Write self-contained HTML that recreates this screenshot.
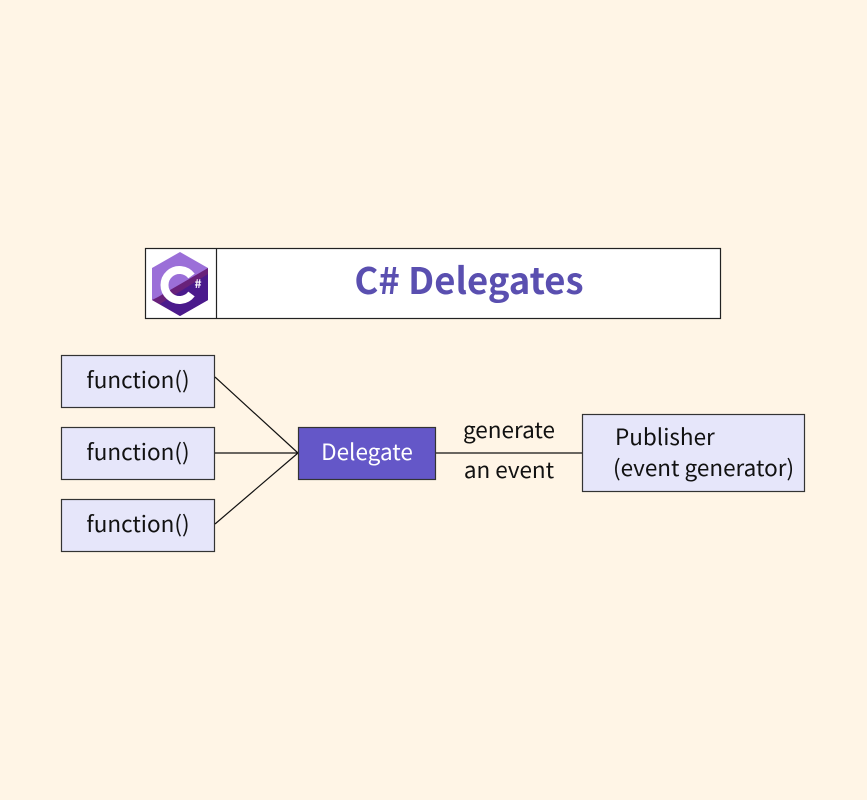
<!DOCTYPE html>
<html><head><meta charset="utf-8"><style>
html,body{margin:0;padding:0;background:#fff5e6;}
svg{display:block;}
text{font-family:"Noto Sans CJK SC","Liberation Sans",sans-serif;}
</style></head><body>
<svg width="867" height="800" viewBox="0 0 867 800" xmlns="http://www.w3.org/2000/svg">
<rect width="867" height="800" fill="#fff5e6"/>
<rect x="145.5" y="248.5" width="575" height="70" fill="#fff" stroke="#222" stroke-width="1.2"/>
<line x1="216.5" y1="248.5" x2="216.5" y2="318.5" stroke="#222" stroke-width="1.2"/>
<polygon points="180,252 208,268 208,300 180,316 152,300 152,268" fill="#9b6fd8"/>
<polygon points="208,268 208,300 180,316 152,300 158,297" fill="#68217a"/>
<polygon points="208,274 208,300 180,316 160,304" fill="#4a1a8c"/>
<path d="M191.5,276 A15,15 0 1 0 191.5,294" fill="none" stroke="#fff" stroke-width="8"/>
<text x="198" y="288" font-size="12" font-weight="bold" fill="#fff" text-anchor="middle">#</text>
<text x="469" y="294" font-size="36.5" font-weight="bold" fill="#5a4fb0" text-anchor="middle">C# Delegates</text>
<g stroke="#333" stroke-width="1.2" fill="#e6e6fa">
<rect x="61.5" y="355.5" width="153" height="52"/>
<rect x="61.5" y="427.5" width="153" height="52"/>
<rect x="61.5" y="499.5" width="153" height="52"/>
<rect x="582.5" y="414.5" width="222" height="77"/>
</g>
<g stroke="#111" stroke-width="1.2">
<line x1="215" y1="377" x2="298" y2="453"/>
<line x1="215" y1="453" x2="298" y2="453"/>
<line x1="215" y1="524" x2="298" y2="453"/>
<line x1="436" y1="453" x2="582" y2="453"/>
</g>
<rect x="298.5" y="427.5" width="137" height="52" fill="#6457c8" stroke="#333" stroke-width="1.2"/>
<g font-size="22.5" fill="#111" text-anchor="middle">
<text x="138" y="388">function()</text>
<text x="138" y="460">function()</text>
<text x="138" y="532">function()</text>
<text x="367" y="460" fill="#fff">Delegate</text>
<text x="509" y="438">generate</text>
<text x="509" y="478">an event</text>
</g>
<g font-size="22.5" fill="#111">
<text x="615" y="445">Publisher</text>
<text x="613" y="476">(event generator)</text>
</g>
</svg>
</body></html>
